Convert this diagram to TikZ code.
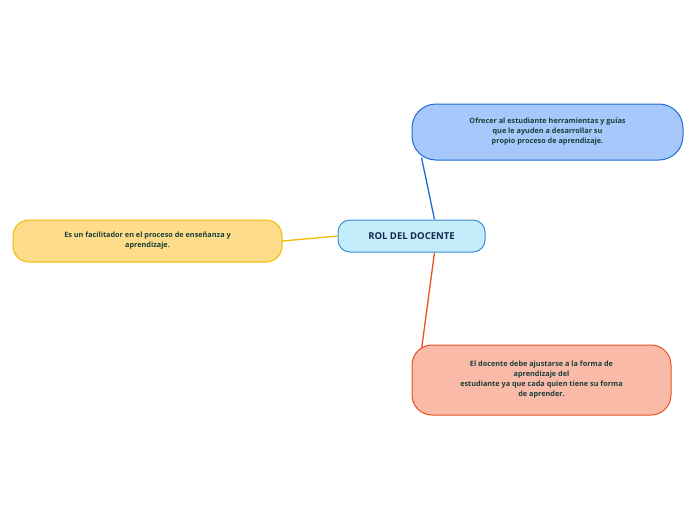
\documentclass[tikz,border=0pt]{standalone}
\usepackage{fontspec}
\setmainfont{Open Sans}
\usetikzlibrary{backgrounds}
\definecolor{txt}{HTML}{1B3F3A}
\definecolor{navy}{HTML}{102A4C}
\definecolor{bfill}{HTML}{A6C8FB}
\definecolor{bline}{HTML}{1E6BD6}
\definecolor{cfill}{HTML}{C5ECFB}
\definecolor{cline}{HTML}{3A8FD0}
\definecolor{yfill}{HTML}{FDDC8A}
\definecolor{yline}{HTML}{F5B800}
\definecolor{rfill}{HTML}{F9BBA8}
\definecolor{rline}{HTML}{E5531F}
\begin{document}
\begin{tikzpicture}[x=1pt,y=-1pt,
  box/.style={draw,line width=1pt,align=center,font=\fontsize{7.3}{10}\selectfont\bfseries,text=txt,inner sep=0pt},
  ln/.style={line width=1.3pt}]
\useasboundingbox (0,0) rectangle (696,520);
\node[box,fill=bfill,draw=bline,rounded corners=24pt,minimum width=271pt,minimum height=56pt] (top) at (547.5,132) {Ofrecer al estudiante herramientas y guías\\que le ayuden a desarrollar su\\propio proceso de aprendizaje.};
\node[box,fill=yfill,draw=yline,rounded corners=16pt,minimum width=269pt,minimum height=42pt] (left) at (147.5,241) {Es un facilitador en el proceso de enseñanza y\\aprendizaje.};
\node[box,fill=rfill,draw=rline,rounded corners=20pt,minimum width=259pt,minimum height=70pt] (bot) at (541.5,380) {El docente debe ajustarse a la forma de\\aprendizaje del\\estudiante ya que cada quien tiene su forma\\de aprender.};
\node[box,fill=cfill,draw=cline,text=navy,rounded corners=12pt,minimum width=147pt,minimum height=32pt,font=\fontsize{9.5}{11}\selectfont\bfseries] (c) at (411.5,236) {ROL DEL DOCENTE};
\begin{scope}[on background layer]
\draw[ln,bline] ([xshift=23pt]c.north) -- ([xshift=10pt,yshift=3pt]top.south west);
\draw[ln,yline] (c.west) -- (left.east);
\draw[ln,rline] ([xshift=23pt]c.south) -- ([xshift=10pt,yshift=-5pt]bot.north west);
\end{scope}
\end{tikzpicture}
\end{document}
